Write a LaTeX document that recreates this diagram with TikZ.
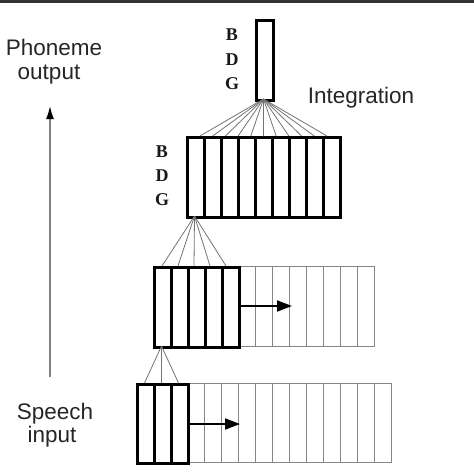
\documentclass[tikz,border=0pt]{standalone}
\usepackage{fontspec}
\setmainfont{Liberation Serif}
\setsansfont{Liberation Sans}
\usetikzlibrary{arrows.meta}
\begin{document}
\begin{tikzpicture}[x=1pt,y=-1pt,
  boldl/.style={line width=2.6pt,draw=black},
  grayl/.style={line width=1.4pt,draw=black!48},
  fanl/.style={line width=0.8pt,draw=black!55},
  lbl/.style={font=\sffamily\fontsize{22.5}{24}\selectfont,text=black!85,inner sep=0pt,anchor=base},
  bdg/.style={font=\bfseries\fontsize{18}{20}\selectfont,text=black!90,inner sep=0pt,anchor=base},
  harrow/.style={line width=1.8pt,-{Triangle[length=15pt,width=11pt]}}]
\useasboundingbox (0,0) rectangle (474,474);
\fill[black!80] (0,0) rectangle (474,2.5);

% labels on the left
\node[lbl] (phon1) at (54,55) {Phoneme};
\node[lbl] (phon2) at (49,79) {output};
\node[lbl] (sp1) at (55,419) {Speech};
\node[lbl] (sp2) at (52,442) {input};
\coordinate (arrbot) at (50,377);
\coordinate (arrtop) at (50,106);
\draw[line width=1.3pt,draw=black!50,-{Latex[length=13pt,width=8pt,color=black]}] (arrbot) -- (arrtop);

\node[lbl] (integ) at (361,103) {Integration};

% top column
\node[boldl,minimum width=17pt,minimum height=80pt,inner sep=0pt,anchor=north west] (top) at (255,19) {};
\node[bdg] (b1) at (232,40) {B};
\node[bdg] (d1) at (232,65) {D};
\node[bdg] (g1) at (232,89) {G};

% layer 2
\foreach \i in {0,...,8} {
  \node[boldl,minimum width=17pt,minimum height=80pt,inner sep=0pt,anchor=north west] (Lb\i) at (186+17*\i,136) {};
}
\node[bdg] (b2) at (162,157) {B};
\node[bdg] (d2) at (162,181) {D};
\node[bdg] (g2) at (162,205) {G};
\coordinate (fanA) at (263.5,99);
\foreach \k in {0,...,10} {
  \coordinate (fa\k) at (200+12.7*\k,136);
  \draw[fanl] (fanA) -- (fa\k);
}

% layer 3
\foreach \i in {0,...,7} {
  \node[grayl,minimum width=17pt,minimum height=80pt,inner sep=0pt,anchor=north west] (Lcg\i) at (238+17*\i,266) {};
}
\foreach \i in {0,...,4} {
  \node[boldl,minimum width=17pt,minimum height=80pt,inner sep=0pt,anchor=north west] (Lc\i) at (153+17*\i,266) {};
}
\coordinate (fanB) at (194.5,216);
\foreach \k in {0,...,4} {
  \coordinate (fb\k) at (162+16*\k,266);
  \draw[fanl] (fanB) -- (fb\k);
}
\coordinate (ha1) at (238,306);
\coordinate (ha2) at (292,306);
\draw[harrow] (ha1) -- (ha2);

% layer 4
\foreach \i in {0,...,11} {
  \node[grayl,minimum width=17pt,minimum height=79pt,inner sep=0pt,anchor=north west] (Ldg\i) at (187+17*\i,383) {};
}
\foreach \i in {0,...,2} {
  \node[boldl,minimum width=17pt,minimum height=79pt,inner sep=0pt,anchor=north west] (Ld\i) at (136+17*\i,383) {};
}
\coordinate (fanC) at (161.5,346);
\foreach \k in {0,...,2} {
  \coordinate (fc\k) at (144.5+17*\k,383);
  \draw[fanl] (fanC) -- (fc\k);
}
\coordinate (hb1) at (187,424);
\coordinate (hb2) at (240,424);
\draw[harrow] (hb1) -- (hb2);
\end{tikzpicture}
\end{document}
